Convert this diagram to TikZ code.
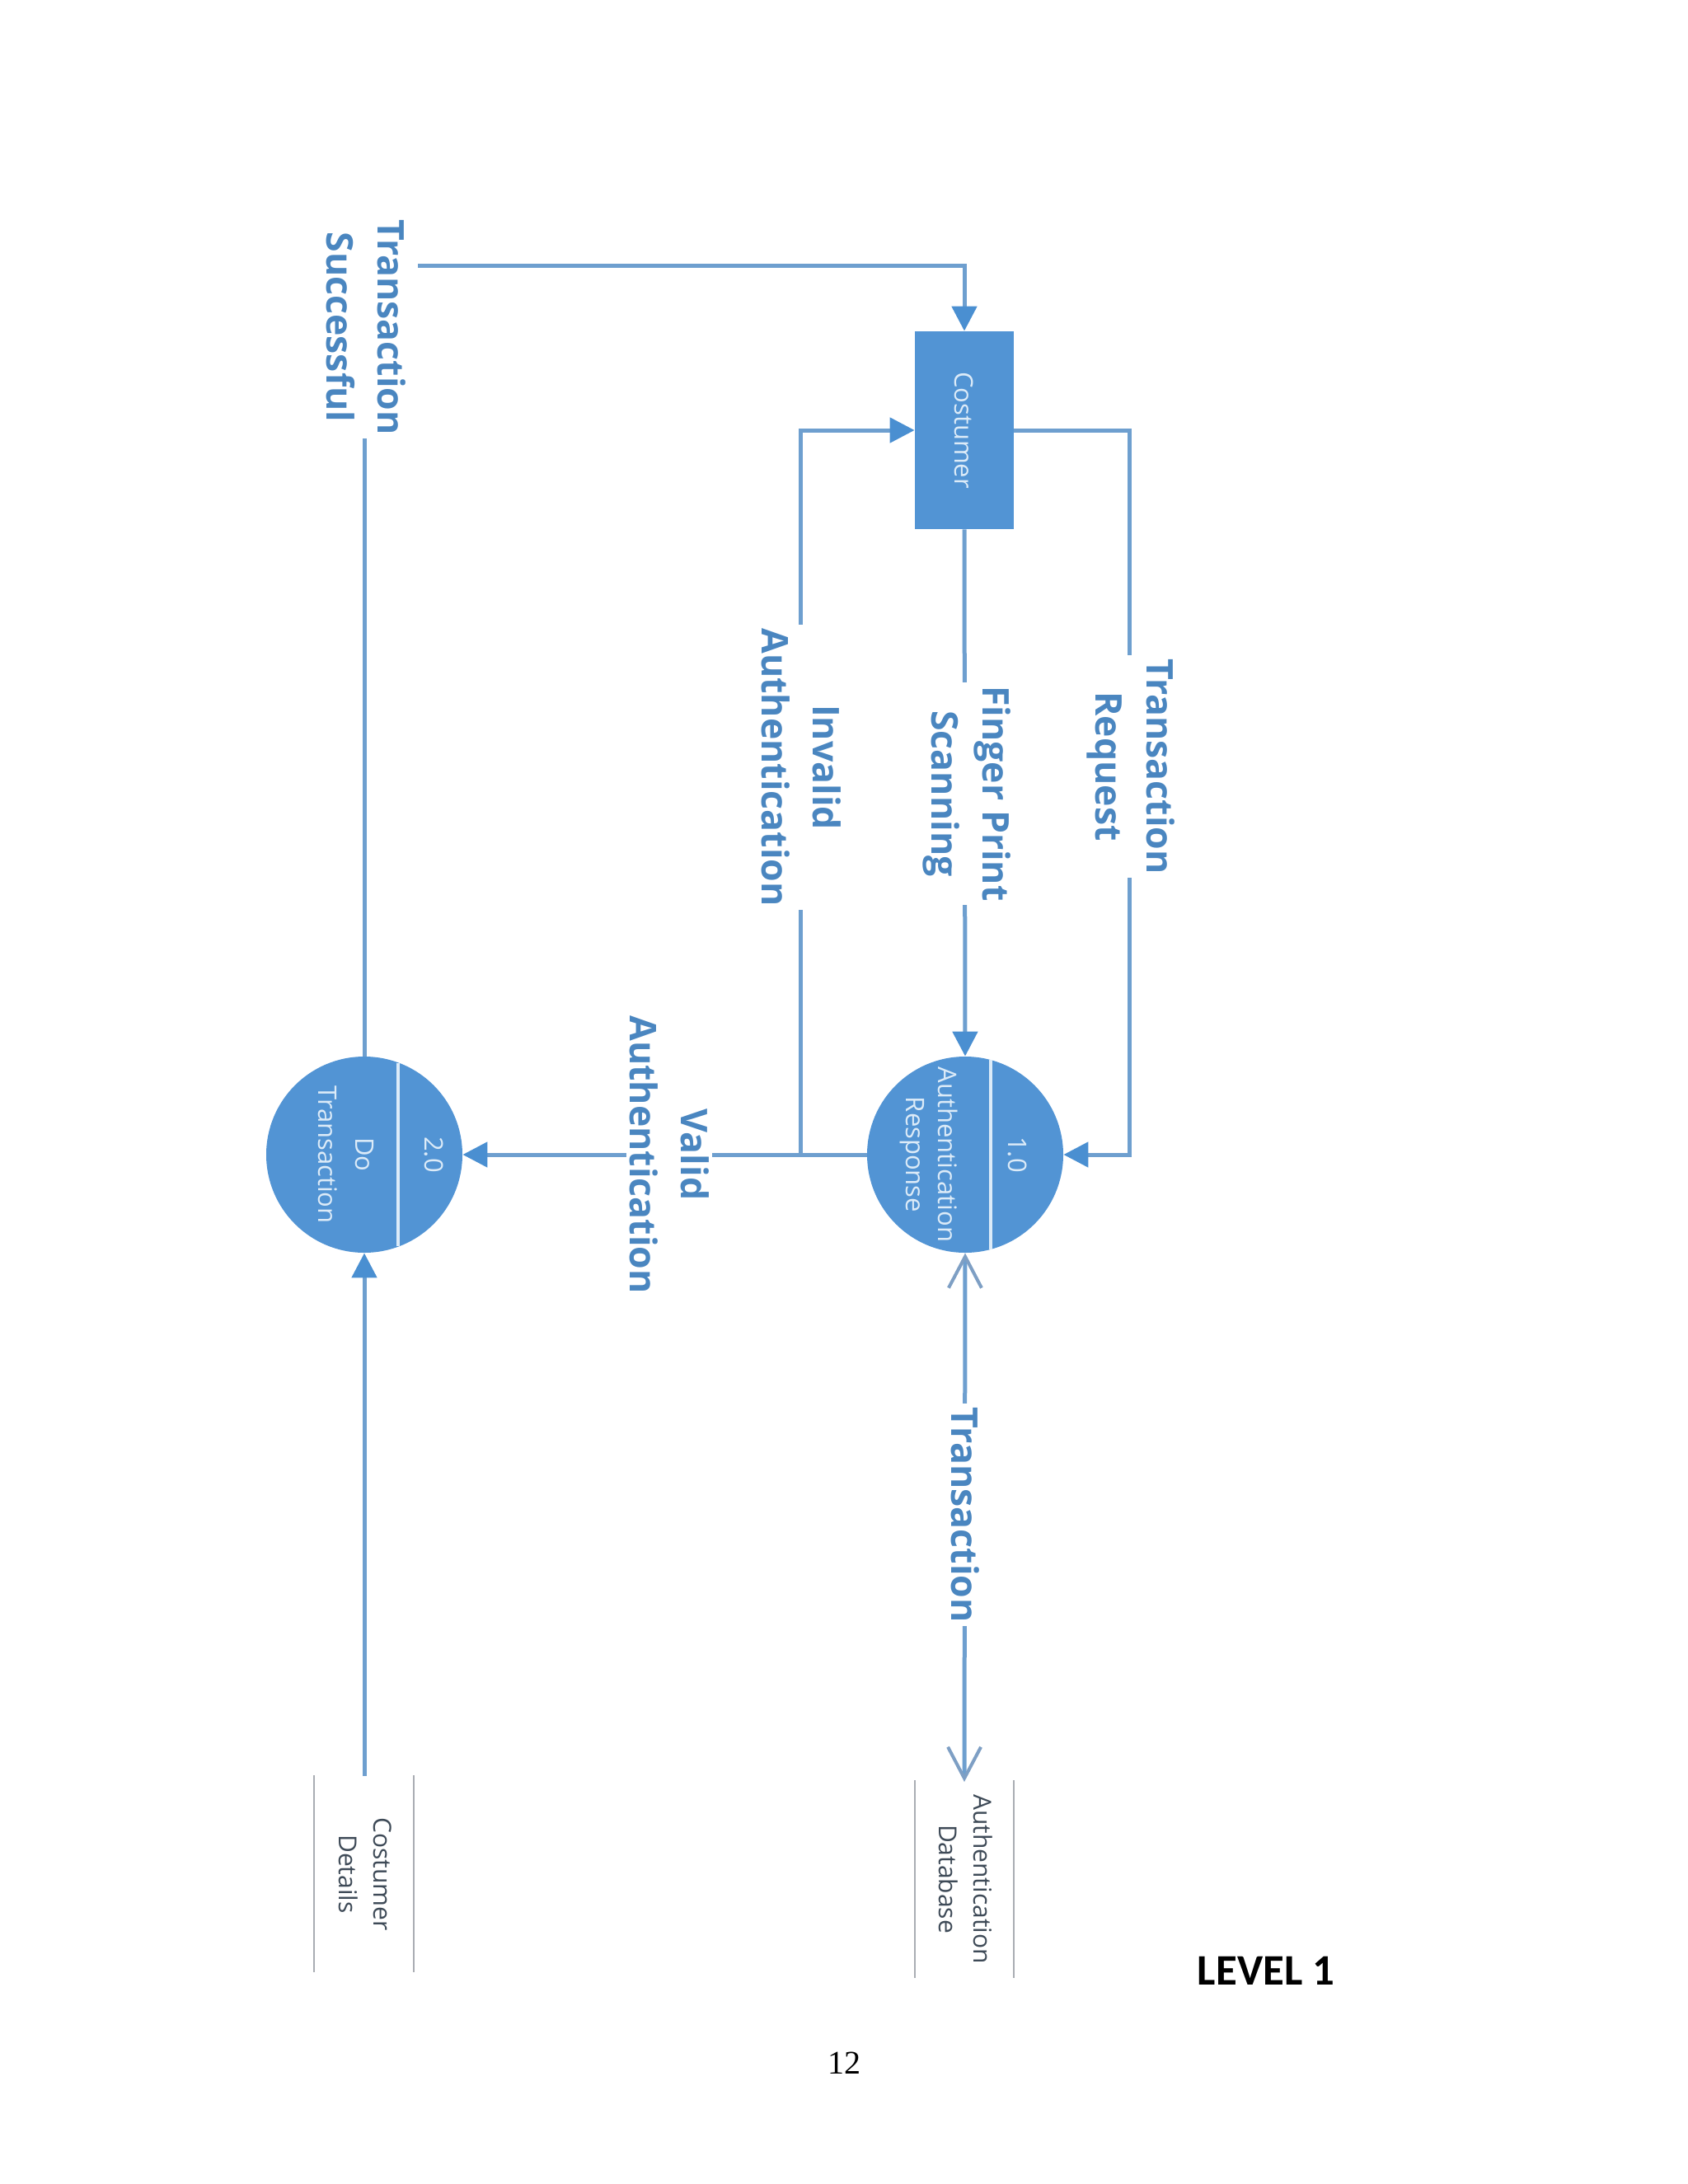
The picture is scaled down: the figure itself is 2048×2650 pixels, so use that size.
\documentclass[tikz,border=0pt]{standalone}
\usepackage{fontspec}
\setmainfont{Open Sans}
\newfontfamily\levelfont{Carlito}
\newfontfamily\pagefont{Liberation Serif}
\usetikzlibrary{arrows.meta}
\definecolor{fillblue}{HTML}{5294D4}
\definecolor{lineblue}{HTML}{6E9FCF}
\definecolor{tipblue}{HTML}{4A8FD1}
\definecolor{barbgrey}{HTML}{7E9FC4}
\definecolor{labelblue}{HTML}{4A86C0}
\definecolor{inkwhite}{HTML}{DCEBF8}
\definecolor{storegrey}{HTML}{A9ADB3}
\definecolor{storeink}{HTML}{3E4A57}
\tikzset{
  x=0.5pt,y=-0.5pt,
  flow/.style={draw=lineblue,line width=2.5pt,-{Triangle[length=15pt,width=15pt,color=tipblue]}},
  plainflow/.style={draw=lineblue,line width=2.5pt},
  twoway/.style={draw=lineblue,line width=2.5pt,{Straight Barb[length=19pt,width=20pt,color=barbgrey,line width=2pt]}-{Straight Barb[length=19pt,width=20pt,color=barbgrey,line width=2pt]}},
  proc/.style={circle,fill=fillblue,minimum size=119pt,inner sep=0pt},
  ent/.style={rectangle,fill=fillblue,minimum width=60pt,minimum height=120pt,inner sep=0pt},
  flowlabel/.style={rotate=-90,fill=white,align=center,text=labelblue,inner sep=2pt,font=\fontsize{22.3}{31}\selectfont\bfseries},
  intext/.style={rotate=-90,text=inkwhite,inner sep=0pt,font=\fontsize{15.5}{18}\selectfont},
  storetext/.style={rotate=-90,text=storeink,inner sep=0pt,align=center,font=\fontsize{15}{21}\selectfont},
  divider/.style={draw=inkwhite,line width=1.6pt},
  storeline/.style={draw=storegrey,line width=1.1pt}
}
\begin{document}
\begin{tikzpicture}
\useasboundingbox (0,0) rectangle (2048,2650);
% nodes
\node[ent] (cust) at (1170,522) {};
\node[proc] (c1) at (1171,1401) {};
\node[proc] (c2) at (442,1401) {};
% bends and free ends
\coordinate (tsEnd) at (442,527);
\coordinate (tsStart) at (507,322);
\coordinate (trBendA) at (1370,522);
\coordinate (trBendB) at (1370,1401);
\coordinate (invBend) at (971,1401);
\coordinate (invBendB) at (971,522);
\coordinate (cdEnd) at (442,2155);
% data stores
\coordinate (db) at (1170,2162);
\draw[storeline] (381,2154) -- (381,2393) (502,2154) -- (502,2393);
\draw[storeline] (1110,2160) -- (1110,2400) (1230,2160) -- (1230,2400);
\node[storetext] (cdText) at (443,2274) {Costumer\\Details};
\node[storetext] (dbText) at (1172,2280) {Authentication\\Database};
% connectors
\draw[flow] (tsStart) -| (cust.north);
\draw[flow] (cust.east) -- (trBendA) -- (trBendB) -- (c1.east);
\draw[flow] (cust.south) -- (c1.north);
\draw[flow] (invBend) -- (invBendB) -- (cust.west);
\draw[flow] (c1.west) -- (c2.east);
\draw[plainflow] (c2.north) -- (tsEnd);
\draw[flow] (cdEnd) -- (c2.south);
\draw[twoway] (c1.south) -- (db);
% circle and box texts
\draw[divider] (1202,1286) -- (1202,1516);
\draw[divider] (483,1290) -- (483,1512);
\node[intext] (custText) at (1170,522) {Costumer};
\node[intext] (n1) at (1235,1401) {1.0};
\node[intext] (a1) at (1150,1401) {Authentication};
\node[intext] (r1) at (1107,1401) {Response};
\node[intext] (n2) at (527,1401) {2.0};
\node[intext] (d2) at (442,1401) {Do};
\node[intext] (t2) at (398,1401) {Transaction};
% flow labels
\node[flowlabel] (lts) at (444,397) {Transaction\\Successful};
\node[flowlabel] (ltr) at (1372,930) {Transaction\\Request};
\node[flowlabel] (lfp) at (1173,963) {Finger Print\\Scanning};
\node[flowlabel] (lia) at (972,931) {Invalid\\Authentication};
\node[flowlabel] (lva) at (812,1401) {Valid\\Authentication};
\node[flowlabel,inner ysep=1pt] (lt) at (1171,1838) {Transaction};
% page furniture
\node[inner sep=0pt,font=\levelfont\bfseries\fontsize{26.4}{30}\selectfont,text=black] (level) at (1536,2391) {LEVEL 1};
\node[inner sep=0pt,font=\pagefont\fontsize{20}{24}\selectfont,text=black] (page) at (1024,2503) {12};
\end{tikzpicture}
\end{document}
